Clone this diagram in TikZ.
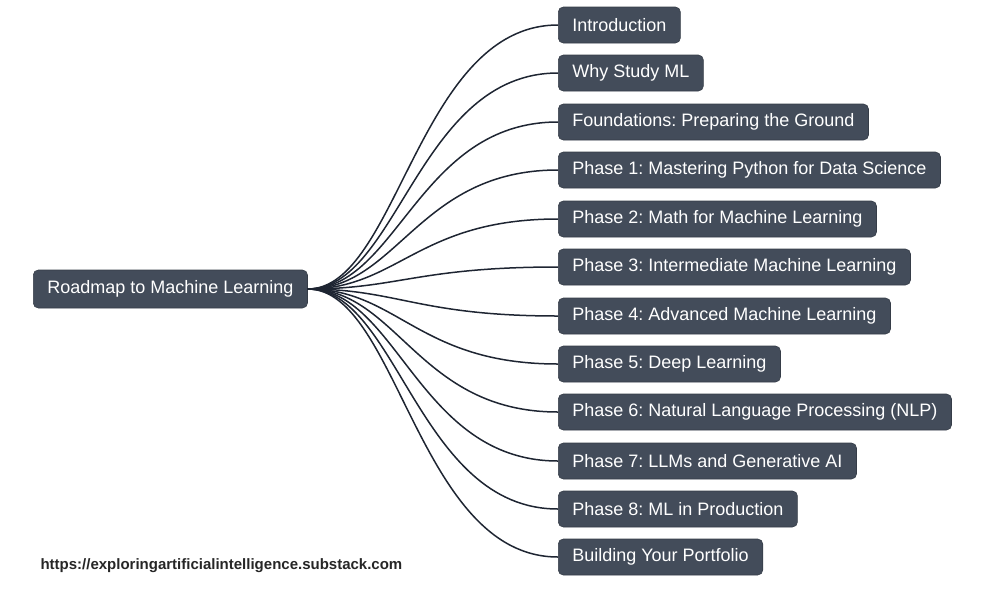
\documentclass[tikz,border=0pt]{standalone}
\usepackage{fontspec}
\usetikzlibrary{calc}
\setmainfont{Liberation Sans}
\definecolor{nodefill}{HTML}{434C5A}
\definecolor{edge}{HTML}{1E2532}
\begin{document}
\frenchspacing
\begin{tikzpicture}[x=1pt,y=-1pt,
  box/.style={fill=nodefill,draw=nodefill!80!black,rounded corners=5pt,text=white,font=\fontsize{18}{21}\selectfont,inner xsep=14pt,minimum height=36pt,anchor=west,line width=0.6pt},
  link/.style={draw=edge,line width=1.5pt}]
\useasboundingbox (0,0) rectangle (982,600);
\node[box,minimum height=38pt] (root) at (33,289) {Roadmap to Machine Learning};
\foreach \i/\y/\t in {1/25/Introduction,2/73/Why Study ML,3/122/Foundations: Preparing the Ground,4/170/Phase 1: Mastering Python for Data Science,5/219/Phase 2: Math for Machine Learning,6/267/Phase 3: Intermediate Machine Learning,7/316/Phase 4: Advanced Machine Learning,8/364/Phase 5: Deep Learning,9/412/Phase 6: Natural Language Processing (NLP),10/461/Phase 7: LLMs and Generative AI,11/509/Phase 8: ML in Production,12/557/Building Your Portfolio}{
  \node[box] (c\i) at (558,\y) {\t};
  \draw[link] (root.east) .. controls ++(90,0) and ($(c\i.west)+(-140,0)$) .. (c\i.west);
}
\node[anchor=west,font=\bfseries\fontsize{15}{18}\selectfont,text=black!85] (url) at (37,566) {https://exploringartificialintelligence.substack.com};
\end{tikzpicture}
\end{document}
